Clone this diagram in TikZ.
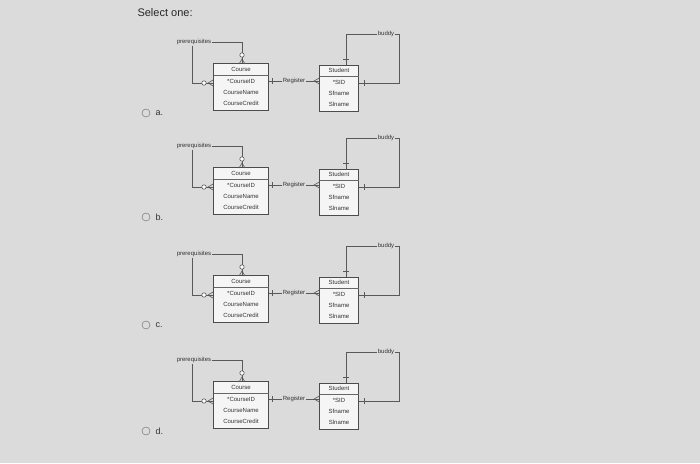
\documentclass[tikz,border=0pt]{standalone}
\usepackage{fontspec}
\setmainfont{Liberation Sans}
\begin{document}
\begin{tikzpicture}[x=1pt,y=-1pt,
  ent/.style={draw=black!70,fill=white!92!gray,minimum width=55pt,minimum height=47pt,inner sep=0pt},
  lbl/.style={font=\fontsize{6}{7}\selectfont,text=black!80,inner sep=1pt},
  ln/.style={draw=black!65,line width=0.6pt},
  radio/.style={circle,draw=black!60,minimum size=8pt,inner sep=0pt}]
\fill[gray!28] (0,0) rectangle (700,463);
\useasboundingbox (0,0) rectangle (700,463);
\node[anchor=west,font=\fontsize{11}{13}\selectfont,text=black!85] (title) at (134,13) {Select one:};
\foreach \s/\dy/\lt in {a/0/a., b/104/b., c/212/c., d/318/d.}{
  \begin{scope}[yshift=-\dy]
  \node[radio] (r\s) at (146,113) {};
  \node[anchor=west,font=\fontsize{9}{11}\selectfont,text=black!80] (l\s) at (152,113) {\lt};
  \node[ent] (c\s) at (241,87) {};
  \draw[black!60] (213.5,75) -- (268.5,75);
  \node[lbl] (ct\s) at (241,69.5) {Course};
  \node[lbl] (c1\s) at (241,81) {*CourseID};
  \node[lbl] (c2\s) at (241,92) {CourseName};
  \node[lbl] (c3\s) at (241,103) {CourseCredit};
  \node[ent,minimum width=39pt,minimum height=46pt] (s\s) at (339,88) {};
  \draw[black!60] (319.5,76) -- (358.5,76);
  \node[lbl] (st\s) at (339,70) {Student};
  \node[lbl] (s1\s) at (339,82) {*SID};
  \node[lbl] (s2\s) at (339,93) {Sfname};
  \node[lbl] (s3\s) at (339,104) {Slname};
  \node[lbl] (reg\s) at (294,81) {Register};
  \node[lbl] (pre\s) at (194,42) {prerequisites};
  \node[lbl] (bud\s) at (386,34) {buddy};
  \coordinate (p1\s) at (242,42);
  \coordinate (p2\s) at (192,83);
  \coordinate (b1\s) at (346,34);
  \coordinate (b2\s) at (399,34);
  \coordinate (b3\s) at (399,83);
  \draw[ln] (pre\s.east) -- (p1\s) -- (c\s.north -| p1\s);
  \draw[ln] (pre\s.south -| p2\s) -- (p2\s) -- (c\s.west |- p2\s);
  \draw[ln] (c\s.east |- reg\s) -- (reg\s.west);
  \draw[ln] (reg\s.east) -- (s\s.west |- reg\s);
  \draw[ln] (s\s.north -| b1\s) -- (b1\s) -- (bud\s.west);
  \draw[ln] (bud\s.east) -- (b2\s) -- (b3\s) -- (s\s.east |- b3\s);
  % notation marks
  \draw[ln,fill=white] (242,55) circle (2.2pt);
  \draw[ln] (239,64) -- (242,59) -- (245,64);
  \draw[ln,fill=white] (204,83) circle (2.2pt);
  \draw[ln] (213,80) -- (208,83) -- (213,86);
  \draw[ln] (319.5,78) -- (314,81) -- (319.5,84);
  \draw[ln] (272,78) -- (272,84);
  \draw[ln] (343,59) -- (349,59);
  \draw[ln] (364,80) -- (364,86);
  \end{scope}
}
\end{tikzpicture}
\end{document}
